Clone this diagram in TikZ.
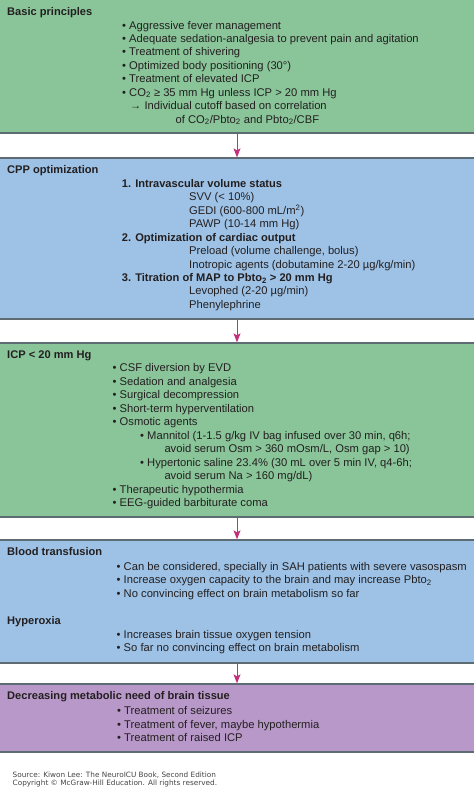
\documentclass[tikz,border=0pt]{standalone}
\usepackage{fontspec}
\setmainfont{Liberation Sans}
\newfontfamily\srcfont{DejaVu Sans}
\usetikzlibrary{arrows.meta}
\definecolor{boxgreen}{HTML}{8AC59A}
\definecolor{boxblue}{HTML}{9DC2E6}
\definecolor{boxpurple}{HTML}{B898C8}
\definecolor{edgegray}{HTML}{5D6B73}
\definecolor{arrmag}{HTML}{C2307A}
\definecolor{txtc}{HTML}{231F20}
\definecolor{srcc}{HTML}{444444}
\tikzset{
  panel/.style={draw=edgegray, line width=1.3pt, rectangle, inner sep=0pt, minimum width=480pt},
  txt/.style={anchor=base west, inner sep=0pt, text=txtc, font=\fontsize{11.2}{13}\selectfont},
  hd/.style={txt, font=\fontsize{11.1}{13}\selectfont\bfseries},
  src/.style={anchor=base west, inner sep=0pt, text=srcc, font=\srcfont\fontsize{7.3}{8}\selectfont},
  flow/.style={draw=arrmag, line width=1pt, -{Stealth[length=9pt,width=7pt,inset=2pt]}}
}
\newcommand\txtline[4]{\node[txt] (#1) at (#2,#3) {#4};}
\newcommand\hdline[4]{\node[hd] (#1) at (#2,#3) {#4};}
\newcommand\sub[1]{\textsubscript{#1}}
\begin{document}
\begin{tikzpicture}[x=1pt,y=-1pt]
\fill[white] (0,0) rectangle (474,788);
\useasboundingbox (0,0) rectangle (474,788);
\clip (0,0) rectangle (474,788);
% boxes
\node[panel, fill=boxgreen, minimum height=135pt] (b1) at (237,65.5) {};
\node[panel, fill=boxblue, minimum height=161pt] (b2) at (237,238.5) {};
\node[panel, fill=boxgreen, minimum height=174pt] (b3) at (237,430) {};
\node[panel, fill=boxblue, minimum height=123pt] (b4) at (237,601.5) {};
\node[panel, fill=boxpurple, minimum height=68pt] (b5) at (237,718) {};
% arrows
\draw[flow] (b1.south) -- (b2.north);
\draw[flow] (b2.south) -- (b3.north);
\draw[flow] (b3.south) -- (b4.north);
\draw[flow] (b4.south) -- (b5.north);
% box 1
\hdline{h1}{7}{15}{Basic principles}
\txtline{a1}{122}{29}{\textbullet\ Aggressive fever management}
\txtline{a2}{122}{42.45}{\textbullet\ Adequate sedation-analgesia to prevent pain and agitation}
\txtline{a3}{122}{55.9}{\textbullet\ Treatment of shivering}
\txtline{a4}{122}{69.35}{\textbullet\ Optimized body positioning (30°)}
\txtline{a5}{122}{82.8}{\textbullet\ Treatment of elevated ICP}
\txtline{a6}{122}{96.25}{\textbullet\ CO\sub{2} ≥ 35 mm Hg unless ICP > 20 mm Hg}
\txtline{a7}{130}{109.7}{→ Individual cutoff based on correlation}
\txtline{a8}{175.5}{123.15}{of CO\sub{2}/Pbto\sub{2} and Pbto\sub{2}/CBF}
% box 2
\hdline{h2}{7}{173.3}{CPP optimization}
\hdline{c1}{121.7}{187.3}{1. Intravascular volume status}
\txtline{c2}{189}{200.75}{SVV (< 10\%)}
\txtline{c3}{189}{214.2}{GEDI (600-800 mL/m\textsuperscript{2})}
\txtline{c4}{189}{227.65}{PAWP (10-14 mm Hg)}
\hdline{c5}{121.7}{241.1}{2. Optimization of cardiac output}
\txtline{c6}{189}{254.55}{Preload (volume challenge, bolus)}
\txtline{c7}{189}{268}{Inotropic agents (dobutamine 2-20 µg/kg/min)}
\hdline{c8}{121.7}{281.45}{3. Titration of MAP to Pbto\sub{2} > 20 mm Hg}
\txtline{c9}{189}{294.9}{Levophed (2-20 µg/min)}
\txtline{c10}{189}{308.35}{Phenylephrine}
% box 3
\hdline{h3}{7}{358.3}{ICP < 20 mm Hg}
\txtline{i1}{112.5}{371.7}{\textbullet\ CSF diversion by EVD}
\txtline{i2}{112.5}{385.2}{\textbullet\ Sedation and analgesia}
\txtline{i3}{112.5}{398.7}{\textbullet\ Surgical decompression}
\txtline{i4}{112.5}{412.2}{\textbullet\ Short-term hyperventilation}
\txtline{i5}{112.5}{425.7}{\textbullet\ Osmotic agents}
\txtline{i6}{140}{439.2}{\textbullet\ Mannitol (1-1.5 g/kg IV bag infused over 30 min, q6h;}
\txtline{i7}{164.3}{452.7}{avoid serum Osm > 360 mOsm/L, Osm gap > 10)}
\txtline{i8}{140}{466.2}{\textbullet\ Hypertonic saline 23.4\% (30 mL over 5 min IV, q4-6h;}
\txtline{i9}{164.3}{479.7}{avoid serum Na > 160 mg/dL)}
\txtline{i10}{112.5}{493.2}{\textbullet\ Therapeutic hypothermia}
\txtline{i11}{112.5}{506.7}{\textbullet\ EEG-guided barbiturate coma}
% box 4
\hdline{h4}{7}{555.7}{Blood transfusion}
\txtline{t1}{116.5}{570}{\textbullet\ Can be considered, specially in SAH patients with severe vasospasm}
\txtline{t2}{116.5}{583.5}{\textbullet\ Increase oxygen capacity to the brain and may increase Pbto\sub{2}}
\txtline{t3}{116.5}{597}{\textbullet\ No convincing effect on brain metabolism so far}
\hdline{h5}{7}{624}{Hyperoxia}
\txtline{x1}{116.5}{638}{\textbullet\ Increases brain tissue oxygen tension}
\txtline{x2}{116.5}{651.5}{\textbullet\ So far no convincing effect on brain metabolism}
% box 5
\hdline{h6}{7}{699}{Decreasing metabolic need of brain tissue}
\txtline{m1}{117}{714.7}{\textbullet\ Treatment of seizures}
\txtline{m2}{117}{728}{\textbullet\ Treatment of fever, maybe hypothermia}
\txtline{m3}{117}{741.3}{\textbullet\ Treatment of raised ICP}
% source
\node[src] (s1) at (12.5,777) {Source: Kiwon Lee: The NeuroICU Book, Second Edition};
\node[src] (s2) at (12.5,785.5) {Copyright © McGraw-Hill Education. All rights reserved.};
\end{tikzpicture}
\end{document}
